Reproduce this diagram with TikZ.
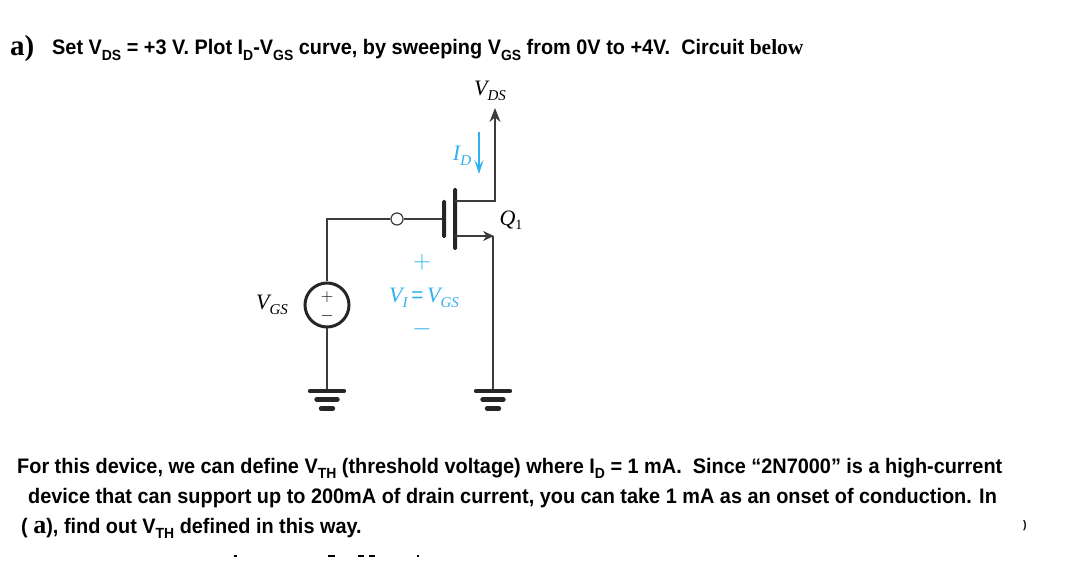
\documentclass[tikz,border=0pt]{standalone}
\usepackage{fontspec}
\setmainfont[FakeStretch=0.947]{Liberation Sans}
\newfontfamily\serifbold{Liberation Serif}
\usepackage{tikz}
\usetikzlibrary{calc,arrows.meta}
\definecolor{wirecol}{HTML}{3C3C3C}
\definecolor{probecol}{HTML}{30B0EE}
\newcommand{\lowsub}[1]{\raisebox{-5.6pt}{\fontsize{14.7}{16}\selectfont #1}}
\newcommand{\quantity}[2]{{\serifbold\itshape #1\raisebox{-4.5pt}{\fontsize{15}{16}\selectfont #2}}}
\tikzset{textline/.style={anchor=base west, inner sep=0pt, font=\fontsize{21}{25}\selectfont\bfseries},
         wire/.style={draw=wirecol, line width=1.2pt},
         gatebar/.style={rectangle, fill=black!85, inner sep=0pt, minimum width=4pt, rounded corners=1.5pt},
         groundbar/.style={line width=4.4pt, line cap=round, black!85},
         mathlabel/.style={inner sep=0pt, font=\fontsize{22}{25}\selectfont},
         probelabel/.style={mathlabel, text=probecol},
         signlabel/.style={inner sep=0pt, align=center, font=\fontsize{17}{18.5}\selectfont}}
\begin{document}
\begin{tikzpicture}[x=1pt, y=-1pt, >=stealth]
	\useasboundingbox (0,0) rectangle (1072,580);

	% question text
	\node[textline] (parta) at (10,56) {\serifbold\fontsize{29}{30}\selectfont a)};
	\node[textline] (line1) at (52,55) {Set V\lowsub{DS} = +3 V. Plot I\lowsub{D}-V\lowsub{GS} curve, by sweeping V\lowsub{GS} from 0V to +4V.\ \ Circuit {\serifbold\fontsize{21.5}{25}\selectfont below}};
	\node[textline] (line2) at (17,473) {For this device, we can define V\lowsub{TH} (threshold voltage) where I\lowsub{D} = 1 mA.\ \ Since “2N7000” is a high-current};
	\node[textline] (line3) at (28,503) {device that can support up to 200mA of drain current, you can take 1 mA as an onset of conduction. In};
	\node[textline] (line4) at (21,533) {( {\serifbold\fontsize{26}{25}\selectfont a}), find out V\lowsub{TH} defined in this way.};
	\node[textline, font=\fontsize{11}{12}\selectfont\bfseries] (mark) at (1023,528) {)};

	% transistor
	\node[gatebar, minimum height=38pt] (gate) at (444,219) {};
	\node[gatebar, minimum height=62pt] (channel) at (455,219) {};
	\node[circle, draw=wirecol, line width=1.2pt, minimum size=12pt, inner sep=0pt] (input) at (397,219) {};
	\coordinate (vds) at (495,108);
	\coordinate (drain) at (455,201);
	\coordinate (source) at (455,236);
	\coordinate (sourceend) at (494,236);
	\coordinate (gnda) at (327,391);
	\coordinate (gndb) at (493,391);
	\coordinate (corner) at (327,219);

	% source
	\node[circle, draw=black!85, line width=3pt, minimum size=44pt, inner sep=0pt] (vsrc) at (327,305) {};
	\node[signlabel] (vsign) at (327,307) {$+$\\$-$};

	\draw[wire] (gate) -- (input);
	\draw[wire] (input) -- (corner) -- (vsrc);
	\draw[wire] (vsrc) -- (gnda);
	\draw[wire, -{Stealth[length=14pt,width=11pt]}] (drain) -| (vds);
	\draw[wire, -{Stealth[length=11pt,width=10pt]}] (source) -- (sourceend);
	\draw[wire] (gndb |- sourceend) -- (gndb);

	% grounds
	\foreach \g in {gnda,gndb} {
		\draw[groundbar] ($(\g)+(-17,0)$) -- ($(\g)+(17,0)$);
		\draw[groundbar] ($(\g)+(-10.5,8.5)$) -- ($(\g)+(10.5,8.5)$);
		\draw[groundbar] ($(\g)+(-6,17.5)$) -- ($(\g)+(6,17.5)$);
	}

	% labels
	\node[mathlabel] (vdslabel) at (490,91) {\quantity{V}{DS}};
	\node[mathlabel] (q1label) at (511,220) {{\serifbold\itshape Q}\raisebox{-4.5pt}{\serifbold\fontsize{14}{16}\selectfont 1}};
	\node[mathlabel] (vgslabel) at (272,305) {\quantity{V}{GS}};
	\node[probelabel] (idlabel) at (462,156) {\quantity{I}{D}};
	\coordinate (idtop) at (479,132);
	\coordinate (idend) at (479,174);
	\draw[draw=probecol, line width=1.2pt, -{Stealth[length=14pt,width=9pt,inset=6pt]}] (idtop) -- (idend);
	\node[probelabel, font=\fontsize{24}{25}\selectfont] (vplusb) at (422,262) {$+$};
	\node[probelabel] (vilabel) at (424,298) {\quantity{V}{I}\,=\,\quantity{V}{GS}};
	\node[probelabel, font=\fontsize{24}{25}\selectfont] (vminusb) at (422,329) {$-$};

	% cut off line at the bottom
	\foreach \a/\b in {234/237,328/335,358/364,369/375,417/419} {
		\draw[line width=1.2pt] (\a,556) -- (\b,556);
	}
\end{tikzpicture}
\end{document}
